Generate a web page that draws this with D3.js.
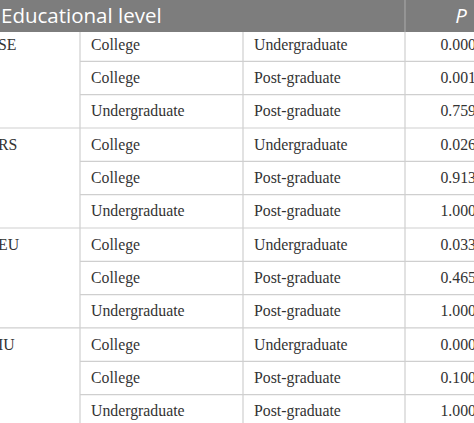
<!DOCTYPE html>
<html><head><meta charset="utf-8">
<script src="https://cdn.jsdelivr.net/npm/d3@7"></script>
<style>body{margin:0;background:#fff;overflow:hidden}</style>
</head><body><div id="chart"></div>
<script>
// table data
const groups = ['SE', 'RS', 'EU', 'IU'];
const levelA = ['College', 'College', 'Undergraduate'];
const levelB = ['Undergraduate', 'Post-graduate', 'Post-graduate'];
const pValues = [
  ['0.000', '0.001', '0.759'],
  ['0.026', '0.913', '1.000'],
  ['0.033', '0.465', '1.000'],
  ['0.000', '0.100', '1.000']
];

const W = 474, H = 423;
const svg = d3.select('#chart').append('svg').attr('width', W).attr('height', H);

const rows = groups.flatMap((g, gi) => levelA.map((a, i) => ({ g, gi, i, a, b: levelB[i], p: pValues[gi][i] })));
const y = d3.scaleLinear().domain([0, 12]).range([28, 28 + 12 * 33.33]);
const cols = [80, 243, 405];
const grid = '#cfcfcf';

// vertical lines
svg.selectAll('.vl').data(cols).enter().append('line')
  .attr('x1', d => d).attr('x2', d => d).attr('y1', 0).attr('y2', H)
  .style('stroke', grid).style('stroke-width', 1.2);

// row lines
svg.selectAll('.hl').data(d3.range(1, 12)).enter().append('line')
  .attr('x1', d => d % 3 === 0 ? 0 : cols[0]).attr('x2', W)
  .attr('y1', d => y(d)).attr('y2', d => y(d))
  .style('stroke', grid).style('stroke-width', 1.2);

// header
svg.append('rect').attr('x', 0).attr('y', 0).attr('width', W).attr('height', 32).style('fill', '#7d7d7d');
svg.append('line').attr('x1', 405).attr('x2', 405).attr('y1', 0).attr('y2', 32)
  .style('stroke', '#a5a5a5').style('stroke-width', 1.2);
svg.append('text').attr('x', 1).attr('y', 23).style('font-family', 'Open Sans, sans-serif')
  .style('font-size', '20.5px').style('fill', '#fff').text('Educational level');
svg.append('text').attr('x', 461).attr('y', 23).attr('text-anchor', 'middle')
  .style('font-family', 'Open Sans, sans-serif').style('font-style', 'italic')
  .style('font-size', '20.5px').style('fill', '#fff').text('P');

const font = t => t.style('font-family', 'Liberation Serif, serif').style('font-size', '15.8px').style('fill', '#333');

svg.selectAll('.grp').data(groups).enter().append('text')
  .attr('x', -2).attr('y', (d, i) => y(i * 3 + 0.5) + 5).call(font).text(d => d);

const r = svg.selectAll('.row').data(rows).enter().append('g')
  .attr('transform', d => `translate(0,${y(d.gi * 3 + d.i + 0.5) + 5})`);
r.append('text').attr('x', 91).call(font).text(d => d.a);
r.append('text').attr('x', 254).call(font).text(d => d.b);
r.append('text').attr('x', 476).attr('text-anchor', 'end').call(font).text(d => d.p);
</script></body></html>
